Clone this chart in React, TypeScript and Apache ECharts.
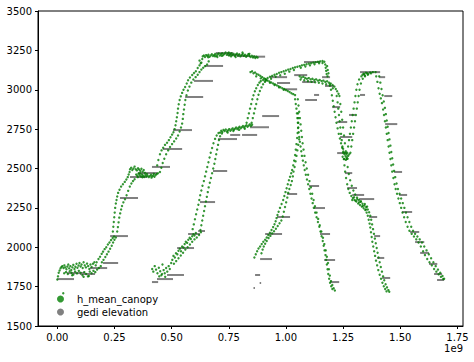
import React, { useEffect, useRef } from "react";
import * as echarts from "echarts";

const xTicks = [0, 0.25, 0.5, 0.75, 1.0, 1.25, 1.5, 1.75];
const yTicks = [1500, 1750, 2000, 2250, 2500, 2750, 3000, 3250, 3500];

// h_mean_canopy, x in units of 1e9
const canopyTrackALow: number[][] = [
  [0.000,1795],[0.003,1815],[0.006,1838],[0.010,1852],[0.014,1866],[0.018,1874],[0.022,1880],[0.027,1868],[0.031,1885],[0.035,1872],
  [0.040,1860],[0.044,1878],[0.048,1890],[0.052,1866],[0.057,1880],[0.061,1855],[0.066,1872],[0.070,1888],[0.075,1862],[0.079,1876],
  [0.084,1895],[0.088,1870],[0.093,1884],[0.097,1900],[0.102,1878],[0.106,1890],[0.111,1868],[0.115,1905],[0.120,1885],[0.125,1872],
  [0.130,1896],[0.135,1880],[0.140,1862],[0.145,1890],[0.150,1875],[0.156,1895],[0.162,1905],[0.168,1885],
  [0.030,1835],[0.038,1842],[0.046,1830],[0.054,1848],[0.062,1838],[0.070,1826],[0.078,1845],[0.086,1834],[0.094,1850],[0.102,1838],
  [0.110,1822],[0.118,1842],[0.126,1830],[0.134,1815],[0.142,1845],[0.150,1835],[0.158,1850],[0.166,1842],[0.174,1858],[0.182,1868],
  [0.190,1880],[0.115,1812],[0.138,1818],[0.065,1822],[0.026,1708],
  [0.172,1905],[0.180,1925],[0.187,1940],[0.194,1958],[0.200,1972],[0.207,1988],[0.214,2000],[0.221,2018],[0.228,2030],[0.235,2045],
  [0.242,2058],[0.248,2068],
  [0.195,1905],[0.202,1920],[0.210,1938],[0.217,1955],[0.224,1972],[0.231,1990],[0.238,2010],[0.244,2030],[0.250,2048],[0.256,2062],
  [0.243,2100],[0.245,2130],[0.247,2160],[0.249,2190],[0.251,2220],[0.253,2250],[0.256,2278],[0.259,2300],[0.262,2322],[0.266,2345],
  [0.272,2365],[0.279,2385],[0.287,2400],[0.295,2415],[0.302,2430],[0.308,2445],[0.312,2462],[0.316,2478],
  [0.262,2100],[0.265,2128],[0.268,2158],[0.271,2188],[0.275,2215],[0.279,2240],[0.283,2262],[0.289,2285],[0.296,2305],[0.303,2330],
  [0.310,2358],[0.317,2385],[0.324,2405],[0.331,2420],[0.338,2432],
];

const canopyTrackAHigh: number[][] = [
  [0.318,2495],[0.323,2505],[0.328,2490],[0.333,2500],[0.338,2512],[0.343,2495],[0.348,2488],[0.353,2502],[0.358,2494],[0.363,2485],
  [0.368,2498],[0.373,2480],[0.378,2490],[0.383,2472],
  [0.345,2462],[0.350,2455],[0.355,2468],[0.360,2458],[0.365,2450],[0.370,2462],[0.375,2455],[0.380,2446],[0.385,2458],[0.390,2450],
  [0.395,2455],[0.400,2445],[0.405,2452],[0.410,2460],[0.415,2450],[0.420,2456],[0.425,2448],[0.430,2458],[0.435,2465],[0.440,2470],
  [0.352,2445],[0.362,2470],[0.372,2444],[0.392,2465],[0.412,2442],[0.422,2466],
  [0.437,2520],[0.442,2554],[0.449,2590],[0.456,2615],[0.463,2632],[0.471,2650],[0.480,2664],[0.488,2680],[0.495,2698],[0.502,2715],
  [0.508,2730],[0.513,2750],[0.517,2775],[0.520,2800],[0.523,2825],[0.526,2852],[0.528,2880],[0.531,2908],[0.535,2935],[0.540,2958],
  [0.546,2980],[0.552,3000],[0.559,3018],[0.566,3040],[0.572,3060],[0.580,3078],[0.590,3094],[0.598,3106],[0.606,3118],[0.614,3138],
  [0.622,3155],[0.630,3172],[0.634,3195],
  [0.449,2478],[0.455,2505],[0.461,2535],[0.468,2562],[0.476,2590],[0.485,2615],[0.493,2636],[0.502,2655],[0.511,2672],[0.520,2690],
  [0.528,2710],[0.535,2735],[0.541,2760],[0.546,2785],[0.549,2815],[0.551,2845],[0.554,2875],[0.557,2905],[0.560,2935],[0.565,2965],
  [0.571,2995],[0.578,3020],[0.586,3045],[0.595,3065],[0.605,3080],[0.614,3095],[0.622,3112],[0.630,3128],[0.638,3140],[0.646,3150],
  [0.655,3160],[0.662,3180],[0.622,3185],[0.627,3168],
  [0.636,3212],[0.641,3218],[0.646,3208],[0.651,3220],[0.656,3214],[0.661,3222],[0.666,3210],[0.671,3218],[0.676,3225],[0.681,3214],
  [0.686,3220],[0.691,3228],[0.696,3216],[0.701,3224],[0.706,3230],[0.711,3218],[0.716,3226],[0.721,3232],[0.726,3220],[0.731,3228],
  [0.736,3236],[0.741,3222],[0.746,3230],[0.751,3218],[0.756,3226],[0.761,3232],[0.766,3220],[0.771,3228],[0.776,3215],[0.781,3224],
  [0.786,3230],[0.791,3218],[0.796,3225],[0.801,3212],[0.806,3220],[0.811,3228],[0.816,3215],[0.821,3222],[0.826,3210],[0.831,3218],
  [0.836,3226],[0.841,3214],[0.846,3208],[0.851,3216],[0.856,3205],[0.861,3212],[0.866,3202],[0.871,3210],[0.876,3204],
  [0.660,3206],[0.690,3212],[0.720,3215],[0.750,3236],[0.780,3208],[0.810,3236],[0.840,3228],[0.700,3208],[0.760,3212],
];

const canopyTrackB: number[][] = [
  [0.415,1862],[0.420,1845],[0.426,1880],[0.432,1858],[0.438,1835],[0.444,1870],[0.450,1848],[0.455,1822],[0.460,1890],[0.465,1855],
  [0.470,1835],[0.476,1868],[0.481,1845],[0.487,1880],[0.492,1862],[0.498,1900],[0.446,1815],[0.458,1830],[0.472,1812],
  [0.503,1920],[0.508,1945],[0.514,1935],[0.519,1962],[0.525,1955],[0.530,1978],[0.536,1990],[0.541,1975],[0.546,2005],[0.552,1998],
  [0.557,2020],[0.562,2035],[0.568,2028],[0.573,2048],[0.579,2060],[0.584,2052],[0.590,2070],[0.595,2082],[0.600,2075],[0.606,2090],
  [0.510,1895],[0.520,1912],[0.530,1930],[0.540,1948],[0.550,1965],[0.560,1985],[0.570,2000],[0.580,2018],[0.590,2035],[0.600,2050],
  [0.610,2062],[0.620,2078],[0.628,2095],
  [0.592,2115],[0.597,2145],[0.602,2178],[0.607,2210],[0.612,2240],[0.617,2270],[0.621,2300],[0.625,2330],[0.630,2360],[0.635,2390],
  [0.641,2420],[0.646,2450],[0.651,2480],[0.656,2510],[0.661,2540],[0.666,2570],[0.671,2600],[0.677,2630],[0.683,2660],[0.690,2688],
  [0.697,2710],[0.705,2725],
  [0.626,2110],[0.630,2140],[0.634,2170],[0.638,2200],[0.642,2230],[0.646,2260],[0.650,2290],[0.654,2320],[0.658,2350],[0.662,2380],
  [0.667,2410],[0.672,2440],[0.677,2470],[0.682,2500],[0.687,2530],[0.691,2560],[0.695,2590],[0.699,2620],[0.703,2650],[0.707,2680],
  [0.712,2705],
  [0.712,2728],[0.717,2740],[0.722,2732],[0.727,2745],[0.732,2738],[0.737,2748],[0.742,2735],[0.747,2742],[0.752,2750],[0.757,2740],
  [0.762,2748],[0.767,2755],[0.772,2745],[0.777,2752],[0.782,2760],[0.787,2750],[0.792,2758],[0.797,2765],[0.802,2755],[0.807,2762],
  [0.812,2770],[0.817,2760],[0.822,2768],[0.827,2775],[0.832,2765],[0.837,2772],[0.842,2780],[0.847,2770],[0.852,2778],
  [0.720,2722],[0.745,2728],[0.770,2738],[0.795,2745],[0.820,2752],
  [0.828,2790],[0.833,2820],[0.838,2850],[0.843,2880],[0.848,2910],[0.853,2940],[0.858,2965],[0.864,2990],[0.870,3010],[0.877,3030],
  [0.884,3045],
  [0.850,2790],[0.855,2820],[0.860,2850],[0.865,2880],[0.870,2910],[0.875,2940],[0.880,2968],[0.886,2992],[0.893,3015],[0.900,3035],
  [0.908,3050],
];

const canopyPeakBand: number[][] = [
  [0.890,3055],[0.900,3062],[0.910,3068],[0.920,3075],[0.930,3082],[0.940,3088],[0.950,3095],[0.960,3100],[0.970,3108],[0.980,3112],
  [0.990,3118],[1.000,3122],[1.010,3128],[1.020,3132],[1.030,3138],[1.040,3142],[1.050,3146],
  [0.915,3060],[0.935,3070],[0.955,3082],[0.975,3092],[0.995,3102],[1.015,3115],[1.035,3125],
  [1.060,3150],[1.070,3155],[1.080,3158],[1.090,3162],[1.100,3166],[1.110,3168],[1.120,3172],[1.130,3175],[1.140,3178],[1.150,3180],
  [1.160,3182],[1.168,3178],[1.065,3140],[1.085,3148],[1.105,3155],[1.125,3162],[1.145,3168],[1.160,3170],
  [1.172,3160],[1.174,3140],[1.176,3120],[1.178,3100],[1.182,3085],[1.180,3150],[1.183,3125],[1.186,3105],
  [0.845,3112],[0.852,3118],[0.858,3105],[0.865,3110],[0.872,3100],[0.880,3095],[0.888,3088],[0.896,3080],[0.904,3072],[0.912,3066],
  [0.920,3058],[0.928,3052],[0.936,3046],[0.944,3040],[0.952,3034],[0.960,3028],[0.968,3022],[0.976,3016],[0.984,3010],[0.992,3005],
  [1.000,2998],[1.008,2992],[1.016,2985],[1.024,2978],[1.032,2972],[1.040,2966],
  [0.870,3085],[0.890,3072],[0.910,3058],[0.930,3044],[0.950,3030],[0.970,3015],[0.990,3000],
  [1.060,3085],[1.068,3078],[1.076,3082],[1.084,3075],[1.092,3070],[1.100,3074],[1.108,3066],[1.116,3070],[1.124,3062],[1.132,3066],
  [1.140,3058],[1.148,3062],[1.156,3055],[1.164,3058],[1.172,3050],[1.180,3054],[1.188,3045],[1.196,3040],[1.204,3030],[1.212,3020],
  [1.218,3005],[1.224,2990],[1.230,2975],
  [1.064,3065],[1.080,3060],[1.096,3055],[1.112,3050],[1.128,3048],[1.144,3044],[1.160,3040],[1.176,3035],[1.192,3025],[1.205,3010],
];

const canopyTrackE: number[][] = [
  [0.862,1935],[0.868,1955],[0.874,1975],[0.880,1992],[0.887,2005],[0.894,2020],[0.901,2035],[0.909,2048],[0.916,2062],[0.923,2077],
  [0.930,2092],[0.937,2110],[0.944,2128],[0.950,2146],[0.955,2165],[0.959,2185],[0.963,2205],[0.968,2225],[0.974,2250],[0.981,2275],
  [0.988,2300],[0.993,2325],[0.998,2350],[1.003,2375],[1.008,2400],[1.013,2425],[1.018,2448],[1.023,2470],[1.027,2490],
  [0.893,1962],[0.898,1985],[0.903,2005],[0.909,2022],[0.916,2040],[0.924,2058],[0.932,2072],[0.940,2088],[0.948,2102],[0.956,2118],
  [0.964,2135],[0.972,2152],[0.980,2170],[0.986,2195],[0.991,2225],[0.996,2256],[1.001,2285],[1.006,2315],[1.010,2345],[1.015,2370],
  [1.021,2395],[1.026,2420],[1.030,2450],[1.033,2480],
  [1.032,2520],[1.036,2550],[1.040,2586],[1.043,2620],[1.046,2655],[1.049,2694],[1.051,2725],[1.053,2757],[1.054,2790],[1.054,2820],
  [1.053,2850],[1.038,2510],[1.042,2545],[1.046,2580],[1.050,2615],[1.054,2650],[1.058,2685],
];

const canopyTrackD: number[][] = [
  [1.040,2940],[1.043,2910],[1.046,2880],[1.048,2850],[1.050,2820],[1.052,2790],[1.054,2760],[1.056,2730],[1.058,2700],[1.061,2670],
  [1.064,2640],[1.067,2610],[1.070,2580],[1.074,2550],[1.078,2520],[1.082,2490],[1.087,2460],[1.092,2430],[1.097,2400],[1.102,2370],
  [1.107,2340],[1.112,2310],[1.117,2280],[1.122,2250],[1.128,2220],[1.134,2190],[1.140,2160],[1.146,2130],[1.151,2100],[1.156,2070],
  [1.161,2040],[1.165,2010],[1.169,1980],[1.173,1950],[1.176,1920],[1.179,1890],[1.182,1860],[1.185,1830],[1.189,1800],[1.193,1775],
  [1.198,1752],[1.203,1735],
  [1.052,2940],[1.055,2900],[1.058,2860],[1.061,2820],[1.064,2780],[1.067,2740],[1.070,2700],[1.073,2660],[1.077,2620],[1.081,2580],
  [1.086,2540],[1.091,2500],[1.097,2460],[1.103,2420],[1.109,2380],[1.115,2340],[1.121,2300],[1.127,2260],[1.134,2220],[1.141,2180],
  [1.148,2140],[1.155,2100],[1.162,2060],[1.168,2020],[1.174,1980],[1.179,1940],[1.184,1900],[1.188,1860],[1.192,1820],[1.197,1785],
  [1.203,1760],[1.209,1740],[1.214,1725],
];

const canopyTrackF: number[][] = [
  [1.222,2960],[1.226,2920],[1.229,2880],[1.232,2840],[1.235,2800],[1.238,2760],[1.241,2720],[1.244,2680],[1.247,2640],[1.250,2600],
  [1.253,2560],[1.256,2520],[1.259,2480],[1.263,2440],[1.268,2400],[1.273,2370],[1.279,2345],[1.286,2325],[1.293,2312],[1.300,2300],
  [1.308,2290],[1.316,2278],[1.324,2268],[1.332,2258],[1.340,2248],[1.347,2236],[1.353,2220],[1.358,2200],[1.362,2175],[1.366,2150],
  [1.369,2125],[1.372,2095],[1.375,2065],[1.378,2035],[1.382,2005],[1.386,1975],[1.390,1945],[1.394,1915],[1.399,1885],[1.404,1855],
  [1.410,1825],[1.416,1800],[1.422,1775],[1.428,1752],[1.434,1735],[1.440,1720],
  [1.234,2960],[1.238,2910],[1.242,2860],[1.246,2810],[1.250,2760],[1.254,2710],[1.258,2660],[1.262,2610],[1.266,2560],[1.270,2510],
  [1.275,2465],[1.281,2425],[1.288,2390],[1.295,2360],[1.303,2335],[1.311,2315],[1.319,2300],[1.327,2288],[1.335,2276],[1.343,2265],
  [1.351,2255],[1.358,2240],[1.364,2222],[1.369,2200],[1.373,2175],[1.377,2145],[1.381,2115],[1.385,2085],[1.389,2055],[1.393,2025],
  [1.397,1995],[1.401,1965],[1.405,1935],[1.410,1905],[1.415,1875],[1.420,1845],[1.425,1815],[1.430,1790],[1.436,1765],[1.442,1745],
  [1.448,1728],[1.452,1718],
  [1.290,2300],[1.298,2318],[1.305,2295],[1.312,2305],[1.320,2285],[1.328,2292],[1.336,2262],[1.345,2275],[1.350,2240],[1.355,2258],
];

const canopyTrackV: number[][] = [
  [1.192,3035],[1.197,3000],[1.201,2965],[1.205,2930],[1.209,2895],[1.213,2860],[1.217,2825],[1.221,2790],[1.226,2755],[1.231,2720],
  [1.236,2690],[1.241,2660],[1.246,2632],[1.251,2608],[1.256,2590],[1.261,2578],[1.266,2570],[1.272,2580],[1.258,2600],[1.250,2625],
  [1.255,2560],[1.262,2555],[1.270,2562],[1.277,2590],[1.248,2575],[1.265,2590],
  [1.268,2600],[1.272,2640],[1.276,2680],[1.280,2720],[1.284,2760],[1.288,2800],[1.292,2840],[1.296,2880],[1.300,2920],[1.304,2960],
  [1.308,3000],[1.313,3035],[1.320,3065],[1.330,3085],[1.342,3098],[1.355,3105],[1.368,3110],[1.380,3112],[1.392,3112],
  [1.282,2600],[1.286,2640],[1.290,2680],[1.294,2720],[1.298,2760],[1.302,2800],[1.306,2840],[1.310,2880],[1.314,2920],[1.318,2960],
  [1.322,3000],[1.328,3040],[1.336,3070],[1.346,3085],[1.358,3095],
  [1.335,3095],[1.340,3102],[1.345,3090],[1.350,3108],[1.360,3100],[1.372,3104],
];

const canopyTrackG: number[][] = [
  [1.395,3085],[1.400,3050],[1.405,3010],[1.410,2975],[1.415,2945],[1.420,2915],[1.425,2875],[1.429,2840],[1.433,2800],[1.437,2760],
  [1.441,2720],[1.445,2680],[1.449,2640],[1.453,2600],[1.457,2560],[1.461,2520],[1.465,2480],[1.470,2440],[1.475,2400],[1.480,2370],
  [1.486,2340],[1.492,2310],[1.498,2280],[1.504,2250],[1.510,2220],[1.517,2190],[1.524,2160],[1.532,2130],[1.540,2105],[1.550,2085],
  [1.560,2068],[1.570,2050],[1.580,2030],[1.590,2005],[1.600,1975],[1.608,1950],[1.618,1925],[1.628,1905],[1.638,1885],[1.648,1862],
  [1.658,1845],[1.668,1828],[1.678,1812],[1.688,1798],
  [1.408,3085],[1.413,3045],[1.418,3005],[1.423,2965],[1.428,2925],[1.433,2885],[1.437,2845],[1.441,2805],[1.445,2765],[1.449,2725],
  [1.453,2685],[1.457,2645],[1.461,2605],[1.465,2565],[1.469,2525],[1.473,2485],[1.478,2445],[1.484,2405],[1.490,2370],[1.497,2340],
  [1.504,2310],[1.511,2280],[1.518,2250],[1.525,2220],[1.532,2190],[1.540,2160],[1.548,2130],[1.556,2105],[1.565,2085],[1.575,2068],
  [1.585,2050],[1.595,2030],[1.605,2005],[1.615,1980],[1.625,1955],[1.635,1930],[1.645,1905],[1.655,1880],[1.665,1858],[1.675,1838],
  [1.685,1818],[1.692,1800],
];

// gedi elevation: footprint runs from gediStart to gediEnd (x, 1e9) at gediElevation (m)
const gediStart = [
  0.000,0.042,0.099,0.143,0.200,0.231,0.274,0.318,0.353,0.414,0.462,0.506,0.559,0.598,0.646,0.694,0.743,0.786,0.852,
  0.414,0.436,0.480,0.524,0.572,0.616,0.624,0.681,0.703,0.756,0.808,0.843,0.896,
  0.931,0.961,0.992,1.036,1.071,1.079,1.084,1.123,1.158,1.171,1.202,1.224,1.237,1.224,1.276,1.324,1.324,1.408,1.430,1.434,1.473,
  1.005,0.961,0.909,0.887,0.865,1.101,1.123,1.149,1.167,1.193,1.268,1.290,1.320,1.364,1.386,1.399,1.421,
  1.495,1.508,1.543,1.565,1.587,1.626,1.648,1.661,0.858,0.885,1.258,
];
const gediEnd = [
  0.073,0.121,0.165,0.218,0.266,0.309,0.353,0.393,0.436,0.493,0.546,0.589,0.638,0.681,0.725,0.769,0.800,0.843,0.909,
  0.441,0.506,0.554,0.598,0.624,0.646,0.690,0.743,0.786,0.800,0.874,0.926,0.970,
  1.005,1.018,1.049,1.093,1.128,1.149,1.136,1.145,1.193,1.211,1.237,1.268,1.290,1.268,1.303,1.346,1.412,1.434,1.465,1.487,1.508,
  1.049,1.018,0.983,0.939,0.887,1.145,1.171,1.193,1.215,1.233,1.311,1.342,1.386,1.399,1.412,1.430,1.456,
  1.530,1.552,1.583,1.605,1.626,1.662,1.683,1.692,0.862,0.889,1.290,
];
const gediElevation = [
  1798,1836,1830,1868,1900,2071,2313,2446,2471,2510,2624,2744,2954,3056,3151,3233,3221,3214,3210,
  1779,1798,1824,1995,2084,2103,2287,2484,2687,2713,2713,2762,2833,
  3080,3043,3003,3093,3049,3176,2935,2967,3080,3024,2890,2795,2700,2598,2840,2967,3112,3080,2960,2782,2478,
  2338,2192,2084,1925,1824,2389,2249,2084,1919,1779,2376,2332,2306,2192,2071,1932,1805,
  2332,2224,2097,2033,1964,1894,1830,1792,1741,1773,2471,
];

const FONT = "DejaVu Sans";

export default function App() {
  const ref = useRef<HTMLDivElement>(null);
  useEffect(() => {
    if (!ref.current) return;
    const chart = echarts.init(ref.current, null, { renderer: "svg" });
    const canopy = [
      ...canopyTrackALow, ...canopyTrackAHigh, ...canopyTrackB, ...canopyPeakBand,
      ...canopyTrackE, ...canopyTrackD, ...canopyTrackF, ...canopyTrackV, ...canopyTrackG,
    ];
    const gedi = gediElevation.map((y, i) => [gediStart[i], gediEnd[i], y]);
    chart.setOption({
      animation: false,
      backgroundColor: "#ffffff",
      textStyle: { fontFamily: FONT },
      grid: { left: 38, top: 11, right: 11, bottom: 36, show: true, borderColor: "#000", borderWidth: 1, backgroundColor: "transparent" },
      xAxis: {
        type: "value",
        min: -0.0845,
        max: 1.7745,
        axisLine: { show: true, onZero: false, lineStyle: { color: "#000", width: 1 } },
        axisTick: { show: true, length: 3, customValues: xTicks, lineStyle: { color: "#000" } },
        axisLabel: { customValues: xTicks, formatter: (v: number) => v.toFixed(2), margin: 6, fontSize: 10, color: "#000", fontFamily: FONT },
        splitLine: { show: false },
      },
      yAxis: {
        type: "value",
        min: 1500,
        max: 3500,
        axisLine: { show: true, onZero: false, lineStyle: { color: "#000", width: 1 } },
        axisTick: { show: true, length: 3, customValues: yTicks, lineStyle: { color: "#000" } },
        axisLabel: { customValues: yTicks, formatter: (v: number) => String(Math.round(v)), margin: 6, fontSize: 10, color: "#000", fontFamily: FONT },
        splitLine: { show: false },
      },
      legend: {
        orient: "vertical",
        left: 52,
        top: 289,
        itemWidth: 7,
        itemHeight: 7,
        itemGap: 3,
        textStyle: { fontSize: 10, color: "#000", fontFamily: FONT, padding: [0, 0, 0, 8] },
        data: [
          { name: "h_mean_canopy", icon: "circle", itemStyle: { color: "#008000" } },
          { name: "gedi elevation", icon: "circle", itemStyle: { color: "#808080" } },
        ],
      },
      graphic: [
        { type: "text", right: 11, top: 343, style: { text: "1e9", fontSize: 10, fill: "#000", fontFamily: FONT } },
      ],
      series: [
        {
          name: "h_mean_canopy",
          type: "scatter",
          data: canopy,
          symbol: "circle",
          symbolSize: 2.4,
          itemStyle: { color: "#007a00" },
        },
        {
          name: "gedi elevation",
          type: "custom",
          data: gedi,
          encode: { x: [0, 1], y: 2 },
          itemStyle: { color: "#808080" },
          renderItem: (params: any, api: any) => {
            const p0 = api.coord([api.value(0), api.value(2)]);
            const p1 = api.coord([api.value(1), api.value(2)]);
            return {
              type: "rect",
              shape: { x: p0[0], y: p0[1] - 1, width: Math.max(p1[0] - p0[0], 1.5), height: 2 },
              style: { fill: "#808080" },
            };
          },
        },
      ],
    });
    return () => chart.dispose();
  }, []);
  return <div ref={ref} style={{ position: "fixed", left: 0, top: 0, width: 474, height: 362 }} />;
}
